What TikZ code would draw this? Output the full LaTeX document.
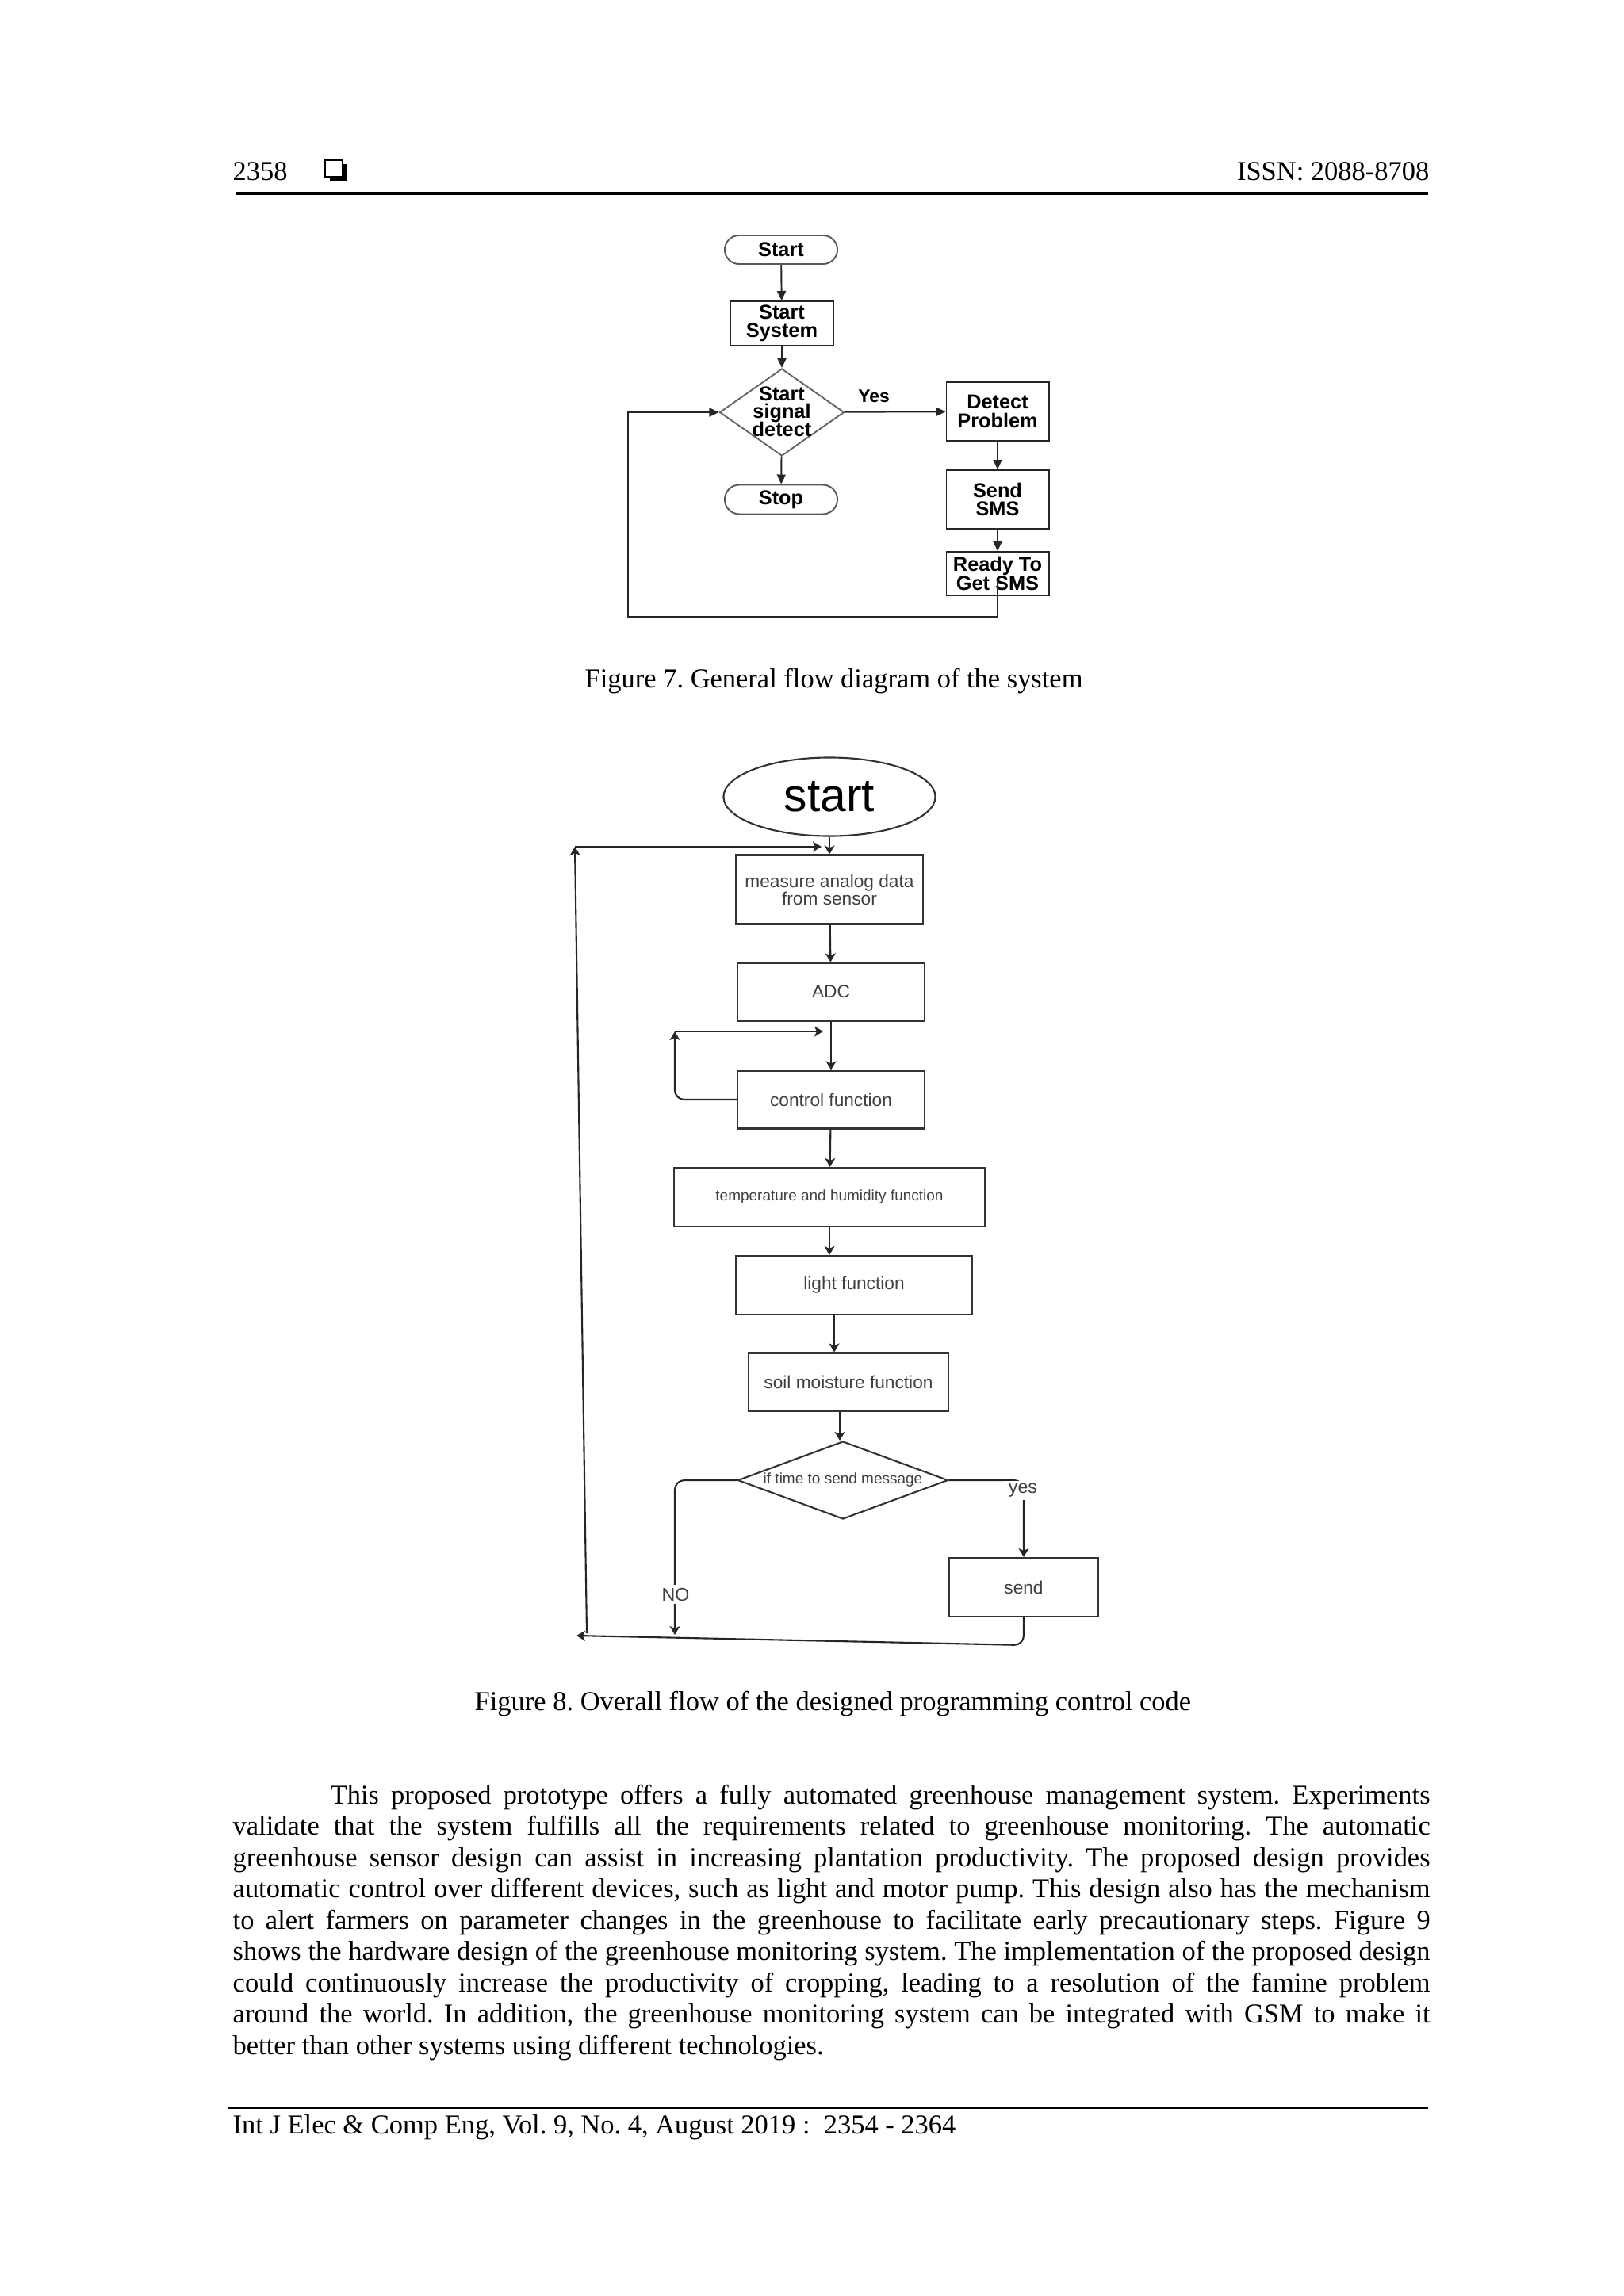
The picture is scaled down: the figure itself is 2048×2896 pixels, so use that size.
\documentclass[tikz,border=0pt]{standalone}
\usepackage{fontspec}
\setmainfont{Liberation Serif}
\newfontfamily\arialf{Liberation Sans}
\usetikzlibrary{shapes.geometric,shapes.misc,arrows.meta,calc}
\newcommand\tightls{\lineskiplimit=-100pt\relax}
\frenchspacing
\begin{document}
\begin{tikzpicture}[x=0.01cm,y=-0.01cm,
 body/.style={inner sep=0, font=\fontsize{9.8pt}{11.25pt}\selectfont\frenchspacing},
 f7box/.style={draw=black!85, line width=0.55pt, inner sep=0, align=center, text=black, font=\arialf\bfseries\fontsize{7.2pt}{6.6pt}\selectfont\tightls},
 f7term/.style={f7box, rounded rectangle, draw=black!65},
 f7arr/.style={draw=black!85, line width=0.55pt, -{Triangle[length=1.2mm,width=1.1mm]}},
 f8box/.style={draw=black!80, line width=0.6pt, inner sep=0, align=center, text=black!75, font=\arialf\fontsize{6.45pt}{6.3pt}\selectfont\tightls},
 f8lab/.style={inner sep=1pt, text=black!75, font=\arialf\fontsize{6.6pt}{7pt}\selectfont},
 f8arr/.style={draw=black!85, line width=0.6pt, -{Stealth[length=1.1mm,width=1.3mm,inset=0.3mm]}},
]
\path[use as bounding box, fill=white] (0,0) rectangle (2048,2896);

% ---------- header ----------
\node[body, anchor=base west] (hpage) at (293,227) {2358};
\fill[black] (416,207) rectangle (437,228);
\filldraw[fill=white, draw=black, line width=0.5pt] (410,202) rectangle (432,223);
\node[body, anchor=base east] (hissn) at (1803,227) {ISSN: 2088-8708};
\draw[line width=0.4mm] (298,244) -- (1801,244);

% ---------- Figure 7 ----------
\node[f7term, minimum width=14.2mm, minimum height=3.6mm] (s7start) at (985,315) {Start};
\node[f7box, minimum width=13mm, minimum height=5.6mm] (s7sys) at (986,408) {Start\\System};
\node[f7box, diamond, draw=black!60, minimum width=15.7mm, minimum height=11mm] (s7dec) at (986,520) {};
\node[f7box, draw=none, font=\arialf\bfseries\fontsize{7.2pt}{6.4pt}\selectfont\tightls] (s7dect) at (986,519) {Start\\signal\\detect};
\node[f7term, minimum width=14.2mm, minimum height=3.7mm] (s7stop) at (985,630) {Stop};
\node[f7box, minimum width=12.9mm, minimum height=7.4mm] (s7det) at (1258,519) {Detect\\Problem};
\node[f7box, minimum width=12.9mm, minimum height=7.4mm] (s7sms) at (1258,630) {Send\\SMS};
\node[f7box, minimum width=12.9mm, minimum height=5.5mm] (s7rdy) at (1258,723.5) {Ready To\\Get SMS};
\node[inner sep=0, font=\arialf\bfseries\fontsize{6.5pt}{7pt}\selectfont] (s7yes) at (1102,500) {Yes};
\coordinate (c7a) at (792,778);
\coordinate (c7r) at ($(s7rdy.center)+(0,7)$);

\draw[f7arr] (s7start) -- (s7sys);
\draw[f7arr] (s7sys) -- (s7dec);
\draw[f7arr] (s7dec) -- (s7det);
\draw[f7arr] (s7dec) -- (s7stop);
\draw[f7arr] (s7det) -- (s7sms);
\draw[f7arr] (s7sms) -- (s7rdy);
\draw[f7arr] (c7r) -- (c7r |- c7a) -- (c7a) |- (s7dec.west);

\node[body, anchor=base west] (cap7) at (737,867) {Figure 7. General flow diagram of the system};

% ---------- Figure 8 ----------
\node[draw=black!80, line width=0.6pt, ellipse, minimum width=26.7mm, minimum height=9.9mm, inner sep=0, text=black, font=\arialf\fontsize{16.7pt}{18pt}\selectfont] (f8start) at (1046,1005) {start};
\node[f8box, minimum width=23.5mm, minimum height=8.7mm] (f8meas) at (1046,1122) {measure analog data\\from sensor};
\node[f8box, minimum width=23.6mm, minimum height=7.3mm] (f8adc) at (1048,1251) {ADC};
\node[f8box, minimum width=23.6mm, minimum height=7.3mm] (f8ctrl) at (1048,1387) {control function};
\node[f8box, minimum width=39.2mm, minimum height=7.4mm, font=\arialf\fontsize{5.4pt}{6pt}\selectfont] (f8temp) at (1046,1510) {temperature and humidity function};
\node[f8box, minimum width=29.8mm, minimum height=7.4mm] (f8light) at (1077,1621) {light function};
\node[f8box, minimum width=25.1mm, minimum height=7.3mm] (f8soil) at (1070,1743) {soil moisture function};
\node[f8box, diamond, minimum width=26.5mm, minimum height=9.8mm] (f8dec) at (1063,1867) {};
\node[inner sep=0, text=black!75, font=\arialf\fontsize{5.4pt}{6pt}\selectfont] (f8dect) at (1063,1867) {if time to send message};
\node[f8box, minimum width=18.8mm, minimum height=7.4mm] (f8send) at (1291,2002) {send};

\coordinate (c8tl) at (725,1068);
\coordinate (c8in) at (1036,1068);
\coordinate (c8bl) at (740,2060);
\coordinate (c8br) at (1291,2075);
\coordinate (c8end) at (727,2063);
\coordinate (c8ctl) at (851,1301);
\coordinate (c8cin) at (1038,1301);
\coordinate (c8no) at (851,2062);
\coordinate (c8la) at ($(f8light.south)+(-25,0)$);
\coordinate (c8lb) at (c8la |- f8soil.north);
\coordinate (c8sa) at ($(f8soil.south)+(-11,0)$);
\coordinate (c8sb) at (c8sa |- f8dec.north);

\draw[f8arr] (f8start) -- (f8meas);
\draw[f8arr] (c8bl) -- (c8tl);
\draw[f8arr] (c8tl) -- (c8in);
\draw[f8arr] (f8meas) -- (f8adc);
\draw[f8arr] (f8adc) -- (f8ctrl);
\draw[f8arr, rounded corners=1.2mm] (f8ctrl.west) -| (c8ctl);
\draw[f8arr] (c8ctl) -- (c8cin);
\draw[f8arr] (f8ctrl) -- (f8temp);
\draw[f8arr] (f8temp.south) -- (f8temp.south |- f8light.north);
\draw[f8arr] (c8la) -- (c8lb);
\draw[f8arr] (c8sa) -- (c8sb);
\draw[f8arr, rounded corners=1.2mm] (f8dec.east) -| (f8send.north);
\draw[f8arr, rounded corners=1.2mm] (f8dec.west) -| (c8no);
\draw[f8arr, rounded corners=1.2mm] (f8send.south) -- (c8br) -- (c8end);

\node[f8lab, fill=white] (f8yes) at (1290,1880) {yes};
\node[f8lab, fill=white] (f8no) at (852,2011) {NO};

\node[body, anchor=base west] (cap8) at (598,2157) {Figure 8. Overall flow of the designed programming control code};

% ---------- paragraph ----------
\node[body, anchor=base west] (para) at (293,2275) {\parbox[t]{15.09cm}{\fontsize{9.8pt}{11.25pt}\selectfont\frenchspacing
\makebox[\linewidth][s]{\hspace*{1.23cm}This proposed prototype offers a fully automated greenhouse management system. Experiments}\par
\makebox[\linewidth][s]{validate that the system fulfills all the requirements related to greenhouse monitoring. The automatic}\par
\makebox[\linewidth][s]{greenhouse sensor design can assist in increasing plantation productivity. The proposed design provides}\par
\makebox[\linewidth][s]{automatic control over different devices, such as light and motor pump. This design also has the mechanism}\par
\makebox[\linewidth][s]{to alert farmers on parameter changes in the greenhouse to facilitate early precautionary steps. Figure 9}\par
\makebox[\linewidth][s]{shows the hardware design of the greenhouse monitoring system. The implementation of the proposed design}\par
\makebox[\linewidth][s]{could continuously increase the productivity of cropping, leading to a resolution of the famine problem}\par
\makebox[\linewidth][s]{around the world. In addition, the greenhouse monitoring system can be integrated with GSM to make it}\par
better than other systems using different technologies.}};

% ---------- footer ----------
\draw[line width=0.25mm] (288,2659) -- (1801,2659);
\node[body, anchor=base west] (foot) at (293,2691) {Int J Elec \& Comp Eng, Vol. 9, No. 4, August 2019 :\ \ 2354 - 2364};
\end{tikzpicture}
\end{document}
